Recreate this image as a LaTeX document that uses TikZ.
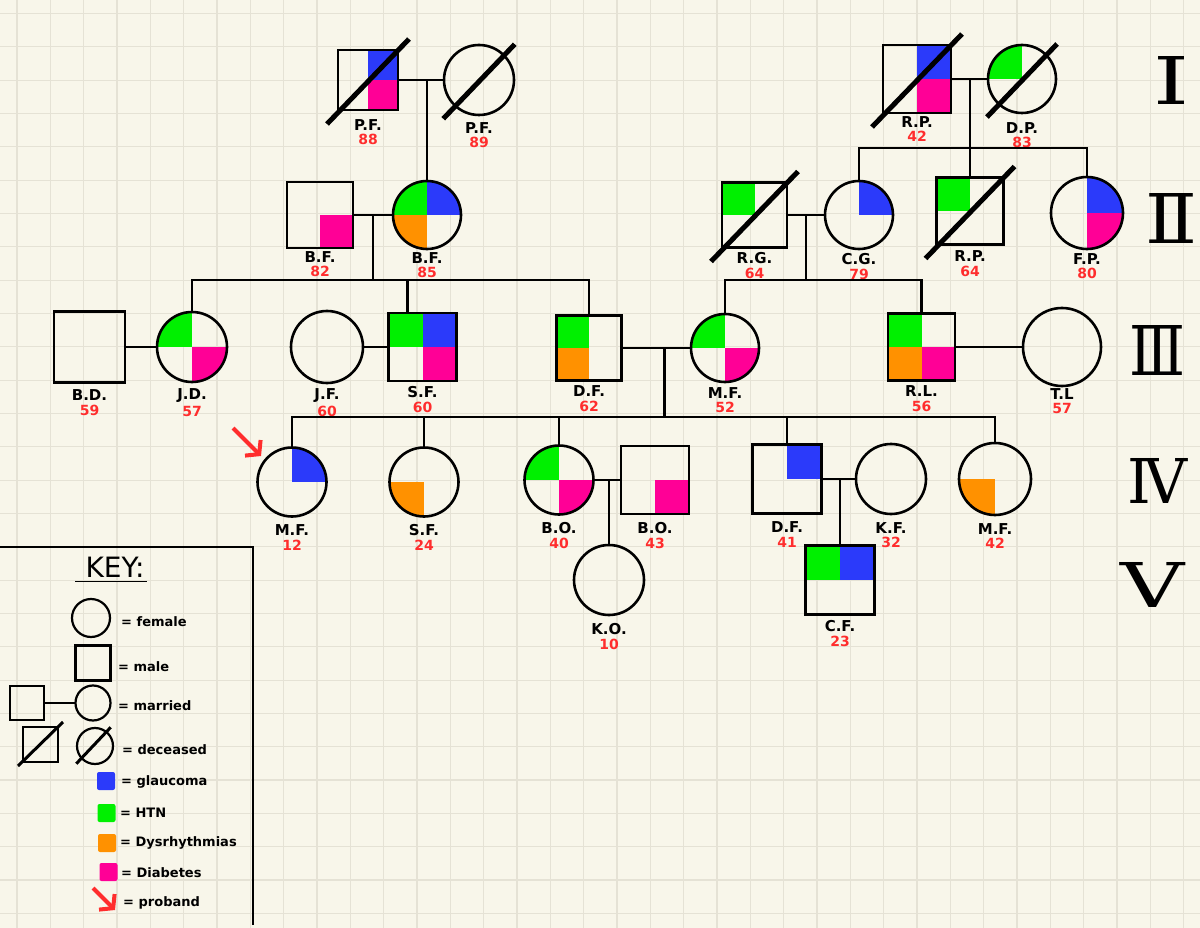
\documentclass[tikz,border=0pt]{standalone}
\usepackage{fontspec}
\newfontfamily\labfont{DejaVu Sans}
\newfontfamily\numfont{DejaVu Serif}
\usetikzlibrary{calc, positioning, arrows.meta}

\definecolor{paper}{RGB}{248,246,234}
\definecolor{gridc}{RGB}{229,226,213}
\definecolor{glau}{RGB}{43,58,250}
\definecolor{htn}{RGB}{0,240,0}
\definecolor{dysr}{RGB}{255,145,0}
\definecolor{diab}{RGB}{255,0,150}
\definecolor{agered}{RGB}{255,45,45}

% deceased slash through a person
\newcommand{\dead}[1]{\draw[slash] ($(#1.south west)+(-11,14)$) -- ($(#1.north east)+(11,-11)$);}
% initials and age under a person
\newcommand{\plab}[4][6pt]{%
    \node[namelab, below=#1 of #2] (#2-n) {#3};
    \node[agelab, below=4pt of #2-n] (#2-a) {#4};}

\begin{document}
\begin{tikzpicture}[
    x=1pt, y=-1pt,
    person/.style={draw, line width=2.6pt, inner sep=0pt, outer sep=0pt},
    female/.style={person, circle, minimum size=#1pt},
    male/.style={person, rectangle, minimum size=#1pt},
    quads/.style n args={4}{path picture={
        \path[fill=#1] (path picture bounding box.center) rectangle (path picture bounding box.north west);
        \path[fill=#2] (path picture bounding box.center) rectangle (path picture bounding box.north east);
        \path[fill=#3] (path picture bounding box.center) rectangle (path picture bounding box.south west);
        \path[fill=#4] (path picture bounding box.center) rectangle (path picture bounding box.south east);
    }},
    slash/.style={line width=5pt},
    link/.style={line width=2.4pt},
    gridline/.style={gridc, line width=1.2pt},
    namelab/.style={font=\labfont\bfseries\fontsize{15}{15}\selectfont, inner sep=0pt},
    agelab/.style={font=\labfont\bfseries\fontsize{14}{14}\selectfont, text=agered, inner sep=0pt},
    gen/.style={inner sep=0pt, font=\numfont},
    keytext/.style={font=\labfont\bfseries\fontsize{13}{13}\selectfont, inner sep=0pt, anchor=west},
    keyperson/.style={line width=2.2pt},
    swatch/.style={rectangle, rounded corners=2pt, minimum size=18pt, inner sep=0pt},
    proband/.style={agered, line width=4pt, -{Straight Barb[length=9pt, width=22pt]}},
]

% =============================================================================
% Paper
% =============================================================================
\useasboundingbox (0,0) rectangle (1200,928);
\fill[paper] (0,0) rectangle (1200,928);
\foreach \i in {0,...,35} {
    \draw[gridline] ({17+33.33*\i},0) -- ({17+33.33*\i},928);
}
\foreach \j in {0,...,27} {
    \draw[gridline] (0,{13.5+33.33*\j}) -- (1200,{13.5+33.33*\j});
}
\coordinate (sibI) at (0,148);
\coordinate (sibII) at (0,280);
\coordinate (sibIII) at (0,417);

% =============================================================================
% Generation I
% =============================================================================
\node[male=60, quads={none}{glau}{none}{diab}] (PF1) at (368,80) {};
\node[female=70] (PF2) at (479,80) {};
\dead{PF1} \dead{PF2}
\draw[link] (PF1.east) -- (PF2.west);
\plab[9pt]{PF1}{P.F.}{88}
\plab[7pt]{PF2}{P.F.}{89}

\node[male=68, quads={none}{glau}{none}{diab}] (RP1) at (917,79) {};
\node[female=68, quads={htn}{none}{none}{none}] (DP) at (1022,79) {};
\dead{RP1} \dead{DP}
\draw[link] (RP1.east) -- (DP.west);
\plab[3pt]{RP1}{R.P.}{42}
\plab[9pt]{DP}{D.P.}{83}

% =============================================================================
% Generation II
% =============================================================================
\node[male=66, quads={none}{none}{none}{diab}] (BF1) at (320,215) {};
\node[female=68, quads={htn}{glau}{dysr}{none}] (BF2) at (427,215) {};
\draw[link] (BF1.east) -- (BF2.west);
\draw[link] (BF2.north) -- (BF2 |- PF1.east);
\coordinate (mBF) at ($(BF1.east)!0.5!(BF2.west)$);
\draw[link] (mBF) -- (mBF |- sibII);
\plab[3pt]{BF1}{B.F.}{82}
\plab[3pt]{BF2}{B.F.}{85}

\node[male=65, quads={htn}{none}{none}{none}] (RG) at (754.5,215) {};
\node[female=68, quads={none}{glau}{none}{none}] (CG) at (859,215) {};
\node[male=67, quads={htn}{none}{none}{none}] (RP2) at (970,211) {};
\node[female=72, quads={none}{glau}{none}{diab}] (FP) at (1087,213) {};
\dead{RG} \dead{RP2}
\draw[link] (RG.east) -- (CG.west);
\coordinate (mRG) at ($(RG.east)!0.5!(CG.west)$);
\draw[link] (mRG) -- (mRG |- sibII);
\draw[link] (RP2 |- RP1.east) -- (RP2.north);
\draw[link] (CG.north) |- (FP |- sibI) -- (FP.north);
\plab[5pt]{RG}{R.G.}{64}
\plab[4pt]{CG}{C.G.}{79}
\plab[6pt]{RP2}{R.P.}{64}
\plab[4pt]{FP}{F.P.}{80}

% =============================================================================
% Generation III
% =============================================================================
\node[male=71] (BD) at (89.5,347) {};
\node[female=70, quads={htn}{none}{none}{diab}] (JD) at (192,347) {};
\draw[link] (BD.east) -- (JD.west);

\node[female=72] (JF) at (327,347) {};
\node[male=68, quads={htn}{glau}{none}{diab}] (SF3) at (422.5,347) {};
\draw[link] (JF.east) -- (SF3.west);

\node[male=65, quads={htn}{none}{dysr}{none}] (DF3) at (589,348) {};
\node[female=68, quads={htn}{none}{none}{diab}] (MF3) at (725,348) {};
\draw[link] (DF3.east) -- (MF3.west);
\coordinate (mDF) at ($(DF3.east)!0.62!(MF3.west)$);
\draw[link] (mDF) -- (mDF |- sibIII);

\node[male=67, quads={htn}{none}{dysr}{diab}] (RL) at (921.5,347) {};
\node[female=78] (TL) at (1062,347) {};
\draw[link] (RL.east) -- (TL.west);

% --- sibships from generation II ---
\draw[link] (JD.north) |- (DF3 |- sibII) -- (DF3.north);
\coordinate (dSF) at ($(SF3.north)+(-15,0)$);
\draw[link] (dSF) -- (dSF |- sibII);
\draw[link] (MF3.north) |- (RL |- sibII) -- (RL.north);

\plab[7pt]{BD}{B.D.}{59}
\plab[6pt]{JD}{J.D.}{57}
\plab[5pt]{JF}{J.F.}{60}
\plab[5pt]{SF3}{S.F.}{60}
\plab[5pt]{DF3}{D.F.}{62}
\plab[5pt]{MF3}{M.F.}{52}
\plab[5pt]{RL}{R.L.}{56}
\plab[2pt]{TL}{T.L}{57}

% =============================================================================
% Generation IV and V
% =============================================================================
\node[female=69, quads={none}{glau}{none}{none}] (MF4a) at (292,482) {};
\node[female=69, quads={none}{none}{dysr}{none}] (SF4) at (424,482) {};
\node[female=69, quads={htn}{none}{none}{diab}] (BO4a) at (559,480) {};
\node[male=68, quads={none}{none}{none}{diab}] (BO4b) at (655,480) {};
\node[male=69, quads={none}{glau}{none}{none}] (DF4) at (787,479) {};
\node[female=70] (KF) at (891,479) {};
\node[female=72, quads={none}{none}{dysr}{none}] (MF4b) at (995,479) {};
\node[female=70] (KO) at (609,580) {};
\node[male=69, quads={htn}{glau}{none}{none}] (CF) at (840,580) {};

\draw[link] (MF4a.north) |- (MF4b |- sibIII) -- (MF4b.north);
\foreach \kid in {SF4, BO4a, DF4} {
    \draw[link] (\kid.north) -- (\kid |- sibIII);
}
\draw[link] (BO4a.east) -- (BO4b.west);
\draw[link] (KO.north) -- (KO |- BO4a.east);
\draw[link] (DF4.east) -- (KF.west);
\draw[link] (CF.north) -- (CF |- DF4.east);

% proband
\draw[proband] ($(MF4a)+(-59,-54)$) -- ($(MF4a)+(-31,-26)$);

\plab[8pt]{MF4a}{M.F.}{12}
\plab[8pt]{SF4}{S.F.}{24}
\plab[8pt]{BO4a}{B.O.}{40}
\plab[8pt]{BO4b}{B.O.}{43}
\plab[8pt]{DF4}{D.F.}{41}
\plab[8pt]{KF}{K.F.}{32}
\plab[8pt]{MF4b}{M.F.}{42}
\plab[8pt]{KO}{K.O.}{10}
\plab[6pt]{CF}{C.F.}{23}

% --- generation numerals ---
\node[gen] (gI) at (1171,80) {\resizebox{36pt}{48pt}{Ⅰ}};
\node[gen] (gII) at (1171,218) {\resizebox{52pt}{50pt}{Ⅱ}};
\node[gen] (gIII) at (1157,350) {\resizebox{56pt}{50pt}{Ⅲ}};
\node[gen] (gIV) at (1157,481) {\resizebox{60pt}{45pt}{Ⅳ}};
\node[gen] (gV) at (1153,585) {\resizebox{64pt}{45pt}{Ⅴ}};

% =============================================================================
% Key
% =============================================================================
\draw[line width=2.6pt] (0,547) -- (253,547) -- (253,925);
\node[inner sep=0pt, font=\labfont\fontsize{28}{28}\selectfont] (kTitle) at (115,567) {KEY:};
\draw[line width=1.8pt] ($(kTitle.south west)+(-10,4)$) -- ($(kTitle.south east)+(2,4)$);

\node[female=38, keyperson] (kF) at (91,618) {};
\node[keytext] (ktF) at (121,622) {= female};
\node[male=35, keyperson] (kM) at (93,663) {};
\node[keytext] (ktM) at (118,667) {= male};
\node[male=34, keyperson] (kM2) at (27,703) {};
\node[female=35, keyperson] (kF2) at (93,703) {};
\draw[line width=2pt] (kM2.east) -- (kF2.west);
\node[keytext] (ktMar) at (118,706) {= married};
\node[male=35, keyperson] (kD1) at (40.5,744.5) {};
\node[female=36, keyperson] (kD2) at (95,746) {};
\draw[line width=3pt] ($(kD1.south west)+(-5,4)$) -- ($(kD1.north east)+(5,-5)$);
\draw[line width=3pt] ($(kD2.south west)+(-6,5)$) -- ($(kD2.north east)+(3,-6)$);
\node[keytext] (ktD) at (122,750) {= deceased};

\node[swatch, fill=glau] (kGl) at (106,781) {};
\node[keytext] (ktGl) at (121,782) {= glaucoma};
\node[swatch, fill=htn] (kHt) at (106.5,813) {};
\node[keytext] (ktHt) at (120,813) {= HTN};
\node[swatch, fill=dysr] (kDy) at (107,843) {};
\node[keytext] (ktDy) at (120,843) {= Dysrhythmias};
\node[swatch, fill=diab] (kDi) at (108.5,872) {};
\node[keytext] (ktDi) at (121,873) {= Diabetes};
\coordinate (kArr) at (93,888);
\draw[proband] (kArr) -- ++(22,22);
\node[keytext] (ktPr) at (123,903) {= proband};

\end{tikzpicture}
\end{document}
